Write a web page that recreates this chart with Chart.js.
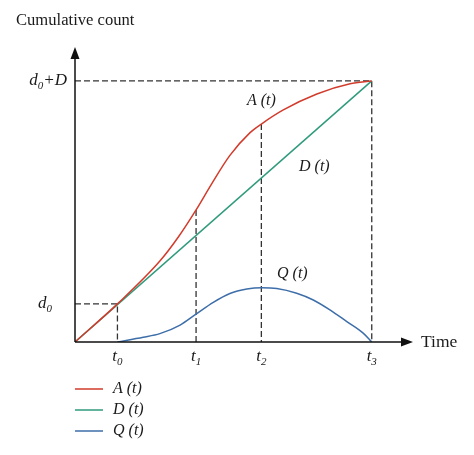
<!DOCTYPE html>
<html>
<head>
<meta charset="utf-8">
<script src="https://cdn.jsdelivr.net/npm/chart.js@4/dist/chart.umd.min.js"></script>
<style>
html,body{margin:0;padding:0;background:#fff;}
#wrap{width:474px;height:455px;position:relative;}
</style>
</head>
<body>
<div id="wrap"><canvas id="c" width="474" height="455"></canvas></div>
<script>
// ---- data (units: t3 = 10, d0 + D = 10) ----
const tickTimes = [1.43, 4.08, 6.28, 10];          // t0, t1, t2, t3
const tickSubs  = ['0', '1', '2', '3'];
const levelValues = [1.46, 10];                     // d0, d0 + D
const arrivalTimes  = [0, 1.43, 2.86, 3.50, 4.08, 4.60, 5.22, 5.90, 6.28, 7.02, 8.15, 9.27, 10];
const arrivalValues = [0, 1.46, 3.10, 4.05, 5.06, 6.05, 7.15, 8.02, 8.35, 8.89, 9.50, 9.89, 10];
const departureTimes  = [0, 10];
const departureValues = [0, 10];
const queueTimes  = [1.43, 2.30, 2.86, 3.54, 4.08, 4.66, 5.22, 5.79, 6.29, 6.80, 7.47, 8.03, 8.59, 9.16, 9.72, 10];
const queueValues = [0, 0.18, 0.32, 0.65, 1.07, 1.52, 1.86, 2.03, 2.08, 2.05, 1.87, 1.61, 1.23, 0.78, 0.33, 0];
const seriesNames = ['A (t)', 'D (t)', 'Q (t)'];
const seriesColors = ['#d23b2b', '#2f9a7c', '#3d6ea9'];

const toPts = (xs, ys) => xs.map((x, i) => ({x: x, y: ys[i]}));
const [t0, t1, t2, t3] = tickTimes;
const [d0, dTop] = levelValues;
const aAt = t => arrivalValues[arrivalTimes.indexOf(t)];

const curve = (label, data, color) => ({
  label, data, borderColor: color, borderWidth: 1.5, pointRadius: 0,
  cubicInterpolationMode: 'monotone', fill: false
});
const guide = (data) => ({
  label: '', data, borderColor: '#333', borderWidth: 1.3, borderDash: [6, 3],
  pointRadius: 0, tension: 0, fill: false
});

const SERIF = '"Liberation Serif", "DejaVu Serif", serif';

function drawSub(ctx, base, sub, suffix, x, y, align, size) {
  const subSize = Math.round(size * 0.62);
  ctx.font = 'italic ' + size + 'px ' + SERIF;
  const wb = ctx.measureText(base).width;
  ctx.font = 'italic ' + subSize + 'px ' + SERIF;
  const wsub = ctx.measureText(sub).width;
  ctx.font = 'italic ' + size + 'px ' + SERIF;
  const wsuf = suffix ? ctx.measureText(suffix).width : 0;
  const total = wb + wsub + wsuf;
  let sx = x;
  if (align === 'center') sx = x - total / 2;
  else if (align === 'right') sx = x - total;
  ctx.textAlign = 'left';
  ctx.textBaseline = 'middle';
  ctx.fillText(base, sx, y);
  ctx.font = 'italic ' + subSize + 'px ' + SERIF;
  ctx.fillText(sub, sx + wb, y + size * 0.3);
  if (suffix) {
    ctx.font = 'italic ' + size + 'px ' + SERIF;
    ctx.fillText(suffix, sx + wb + wsub, y);
  }
}

const decor = {
  id: 'decor',
  afterDraw(chart) {
    const ctx = chart.ctx;
    const xs = chart.scales.x, ys = chart.scales.y;
    const ox = xs.getPixelForValue(0), oy = ys.getPixelForValue(0);
    const right = chart.chartArea.right, top = chart.chartArea.top;
    ctx.save();
    ctx.strokeStyle = '#111';
    ctx.fillStyle = '#111';
    ctx.lineWidth = 1.5;
    ctx.beginPath();
    ctx.moveTo(ox, oy); ctx.lineTo(ox, top + 8);
    ctx.moveTo(ox, oy); ctx.lineTo(right - 8, oy);
    ctx.stroke();
    // arrowheads
    ctx.beginPath();
    ctx.moveTo(ox, top); ctx.lineTo(ox - 4.5, top + 12); ctx.lineTo(ox + 4.5, top + 12); ctx.closePath(); ctx.fill();
    ctx.beginPath();
    ctx.moveTo(right, oy); ctx.lineTo(right - 12, oy - 4.5); ctx.lineTo(right - 12, oy + 4.5); ctx.closePath(); ctx.fill();

    ctx.fillStyle = '#1a1a1a';
    // axis titles
    ctx.font = '16.6px ' + SERIF;
    ctx.textAlign = 'left'; ctx.textBaseline = 'middle';
    ctx.fillText('Cumulative count', 16, 21);
    ctx.font = '17.5px ' + SERIF;
    ctx.fillText('Time', 421, oy);
    // x tick labels
    tickTimes.forEach((t, i) => drawSub(ctx, 't', tickSubs[i], '', xs.getPixelForValue(t), oy + 15, 'center', 17));
    // y tick labels
    drawSub(ctx, 'd', '0', '+D', ox - 8, ys.getPixelForValue(dTop), 'right', 17);
    drawSub(ctx, 'd', '0', '', ox - 23, ys.getPixelForValue(d0), 'right', 17);
    // curve labels
    ctx.font = 'italic 16px ' + SERIF;
    ctx.textAlign = 'left'; ctx.textBaseline = 'middle';
    ctx.fillText(seriesNames[0], 247, 101);
    ctx.fillText(seriesNames[1], 299, 167);
    ctx.fillText(seriesNames[2], 277, 274);
    // legend
    seriesNames.forEach((n, i) => {
      const y = 389 + i * 21;
      ctx.strokeStyle = seriesColors[i];
      ctx.lineWidth = 1.5;
      ctx.beginPath(); ctx.moveTo(75, y); ctx.lineTo(103, y); ctx.stroke();
      ctx.fillStyle = '#1a1a1a';
      ctx.fillText(n, 113, y);
    });
    ctx.restore();
  }
};

new Chart(document.getElementById('c'), {
  type: 'line',
  data: {
    datasets: [
      curve(seriesNames[0], toPts(arrivalTimes, arrivalValues), seriesColors[0]),
      curve(seriesNames[1], toPts(departureTimes, departureValues), seriesColors[1]),
      curve(seriesNames[2], toPts(queueTimes, queueValues), seriesColors[2]),
      guide([{x: 0, y: dTop}, {x: t3, y: dTop}, {x: t3, y: 0}]),
      guide([{x: 0, y: d0}, {x: t0, y: d0}, {x: t0, y: 0}]),
      guide([{x: t1, y: aAt(t1)}, {x: t1, y: 0}]),
      guide([{x: t2, y: aAt(t2)}, {x: t2, y: 0}])
    ]
  },
  options: {
    responsive: false,
    animation: false,
    layout: {padding: {left: 75, right: 61, top: 47, bottom: 113}},
    scales: {
      x: {type: 'linear', min: 0, max: 11.39, display: false},
      y: {type: 'linear', min: 0, max: 11.3, display: false}
    },
    plugins: {legend: {display: false}, tooltip: {enabled: false}}
  },
  plugins: [decor]
});
</script>
</body>
</html>
